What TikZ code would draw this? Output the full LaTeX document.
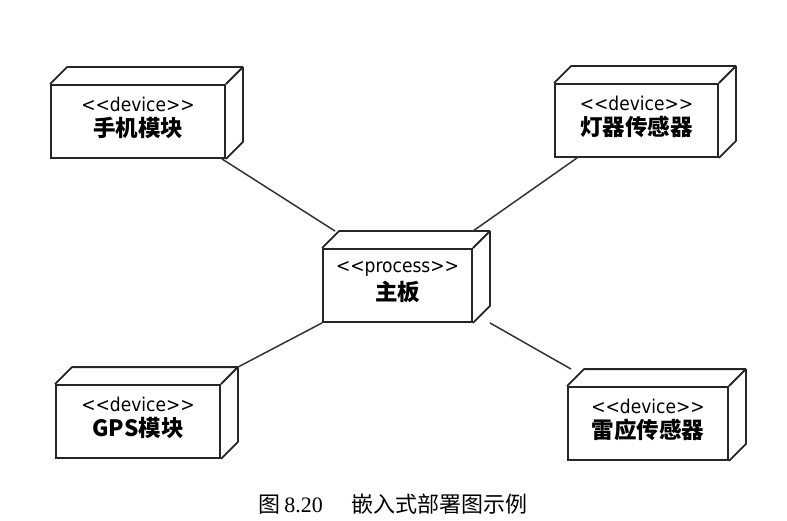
\documentclass[tikz,border=0pt]{standalone}
\usepackage{fontspec}
\setmainfont{Liberation Serif}
\newfontfamily\stereofont{DejaVu Sans Condensed}
\newfontfamily\cjk{Noto Sans CJK SC}
\newlength{\nodedepth}
\setlength{\nodedepth}{17pt}

\tikzset{
    umlnode/.style={draw=black!85, line width=1.8pt, fill=white, align=center,
        inner sep=0pt, minimum height=73pt},
    umlface/.style={draw=black!85, line width=1.8pt, line join=round},
    umlline/.style={draw=black!80, line width=1.5pt},
}

% name, position, width, stereotype, label
\newcommand{\devicenode}[5]{
    \node[umlnode, minimum width=#3] (#1) at (#2)
        {{\stereofont\fontsize{19}{21}\selectfont <\kern0pt<#4>\kern0pt>}\\[4pt]
         {\cjk\bfseries\fontsize{22.5}{25}\selectfont #5\rule[-9pt]{0pt}{1pt}}};
    \coordinate (#1-bnw) at ([shift={(\nodedepth,\nodedepth)}]#1.north west);
    \coordinate (#1-bne) at ([shift={(\nodedepth,\nodedepth)}]#1.north east);
    \coordinate (#1-bse) at ([shift={(\nodedepth,\nodedepth)}]#1.south east);
    \draw[umlface] (#1.north west) -- (#1-bnw) -- (#1-bne) -- (#1-bse) -- (#1.south east)
        (#1.north east) -- (#1-bne);
}

\begin{document}
\begin{tikzpicture}[x=1pt, y=-1pt]
    \useasboundingbox (0,0) rectangle (787,521);

    \devicenode{phone}{138,121.5}{174pt}{device}{手机模块}
    \devicenode{lamp}{636.5,120.5}{163pt}{device}{灯器传感器}
    \devicenode{board}{397.5,285.5}{149pt}{process}{主板}
    \devicenode{gps}{138,421.5}{164pt}{device}{GPS模块}
    \devicenode{radar}{648,423.5}{160pt}{device}{雷应传感器}

    \draw[umlline] ([xshift=-4pt]phone.south east) -- ([xshift=-4pt]board-bnw);
    \draw[umlline] ([xshift=23pt]lamp.south west) -- (board.north east |- board-bnw);
    \draw[umlline] (gps-bne) -- (board.south west);
    \draw[umlline] ([xshift=17pt]board.south east) -- ([xshift=4pt]radar.north west |- radar-bnw);

    \node (caption) at (393,504)
        {\fontsize{22}{24}\selectfont\cjk 图\,{\rmfamily 8.20}\hspace{1.3em}嵌入式部署图示例};
\end{tikzpicture}
\end{document}
